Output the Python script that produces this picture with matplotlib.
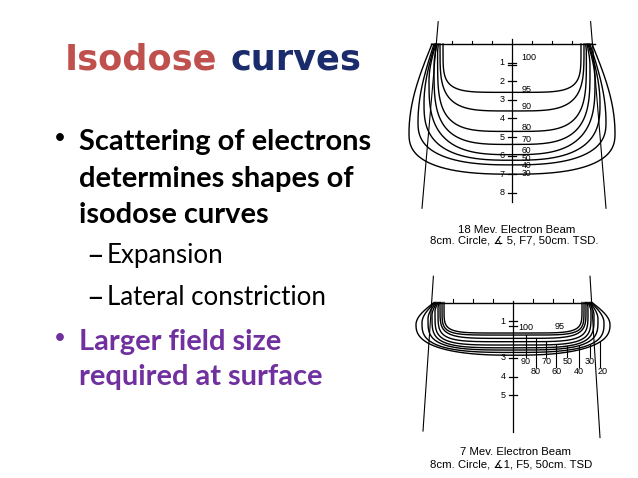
import matplotlib.pyplot as plt
import numpy as np

# 18 MeV beam (upper diagram): isodose level, central-axis depth (cm),
# half-width at surface, max half-width, depth of max half-width, corner shape
top_levels = [95, 90, 80, 70, 60, 50, 40, 30]
top_depth = [2.6, 3.6, 4.7, 5.4, 5.95, 6.25, 6.5, 7.0]
top_surf_half = [3.45, 3.6, 3.68, 3.75, 3.8, 3.85, 3.9, 4.0]
top_max_half = [3.45, 3.6, 3.72, 3.9, 4.15, 4.4, 4.7, 5.15]
top_max_depth = [0.0, 0.0, 0.5, 1.2, 2.0, 3.2, 4.2, 4.8]
top_corner = [5, 4, 4, 3.5, 3, 2.8, 2.6, 2.6]
top_label_depth = [2.42, 3.37, 4.48, 5.16]   # labels 95, 90, 80, 70
top_stack_depth = 6.34                       # stacked labels 60/50/40/30
top_depth_ticks = [1, 2, 3, 4, 5, 6, 7, 8]

# 7 MeV beam (lower diagram)
bot_levels = [95, 90, 80, 70, 60, 50, 40, 30, 20]
bot_depth = [1.65, 1.76, 1.94, 2.12, 2.3, 2.45, 2.57, 2.7, 2.85]
bot_surf_half = [3.45, 3.55, 3.62, 3.68, 3.74, 3.8, 3.85, 3.9, 3.95]
bot_max_half = [3.45, 3.55, 3.65, 3.75, 3.9, 4.05, 4.25, 4.55, 4.85]
bot_max_depth = [0.0, 0.0, 0.1, 0.3, 0.5, 0.7, 0.9, 1.1, 1.2]
bot_corner = [6, 6, 5, 5, 4.5, 4, 3.5, 3, 2.5]
bot_label_x = [0.63, 1.13, 1.67, 2.17, 2.72, 3.28, 3.83, 4.47]
bot_depth_ticks = [1, 3, 4, 5]

surface_ticks = [-3, -2, -1, 1, 2, 3]

fig = plt.figure(figsize=(6.38, 4.78), dpi=100)
W, H = 638, 478


def ftext(x, y, s, **kw):
    # place text using pixel coords measured from top-left
    fig.text(x / W, 1 - y / H, s, **kw)


def add_panel(left, top, right, bottom, x0, y0, sx, sy):
    ax = fig.add_axes([left / W, 1 - bottom / H, (right - left) / W, (bottom - top) / H])
    ax.set_xlim((left - x0) / sx, (right - x0) / sx)
    ax.set_ylim((bottom - y0) / sy, (top - y0) / sy)
    ax.axis('off')
    return ax


def isodose(ax, a, w, m, d, p):
    t = np.linspace(0, 1, 60)
    yu = m * t
    hu = a + (w - a) * np.sin(np.pi / 2 * t)
    th = np.linspace(0, np.pi / 2, 120)
    hl = w * np.cos(th) ** (2 / p)
    yl = m + (d - m) * np.sin(th) ** (2 / p)
    h = np.concatenate([hu, hl])
    y = np.concatenate([yu, yl])
    xs = np.concatenate([-h, h[::-1]])
    ys = np.concatenate([y, y[::-1]])
    ax.plot(xs, ys, color='black', lw=1.0)


def lower_depth(x, w, m, d, p):
    return m + (d - m) * (1 - (abs(x) / w) ** p) ** (1 / p)


lab = dict(family=['Liberation Sans', 'DejaVu Sans'], color='black')
cap = dict(family=['Liberation Sans', 'DejaVu Sans'], color='black', fontsize=8.2)

# ---------- upper diagram ----------
ax1 = add_panel(400, 15, 625, 215, 512, 44, 20, 18.6)
ax1.plot([-4.05, 4.15], [0, 0], color='black', lw=1.0)
ax1.plot([-3.69, -4.5], [-1.2, 8.83], color='black', lw=0.8)
ax1.plot([3.93, 4.7], [-1.2, 8.83], color='black', lw=0.8)
ax1.plot([0, 0], [-0.25, 8.5], color='black', lw=0.9)
for t in surface_ticks:
    ax1.plot([t, t], [0, -0.17], color='black', lw=0.8)
for dtk in top_depth_ticks:
    ax1.plot([-0.22, 0.22], [dtk, dtk], color='black', lw=0.9)
    ax1.text(-0.38, dtk, str(dtk), ha='right', va='center', fontsize=6.5, **lab)
ax1.plot([-0.22, 0.22], [1.12, 1.12], color='black', lw=0.9)
ax1.text(0.45, 0.72, '100', ha='left', va='center', fontsize=6.5, **lab)
for i in range(len(top_levels)):
    isodose(ax1, top_surf_half[i], top_max_half[i], top_max_depth[i], top_depth[i], top_corner[i])
for i, dl in enumerate(top_label_depth):
    ax1.text(0.5, dl, str(top_levels[i]), ha='left', va='center', fontsize=6.5, **lab)
stack = '\n'.join(str(v) for v in top_levels[len(top_label_depth):])
ax1.text(0.5, top_stack_depth, stack, ha='left', va='center', fontsize=6.2,
         linespacing=0.8, **lab)

ftext(517, 230, '18 Mev. Electron Beam', ha='center', va='center', **cap)
ftext(514, 241, '8cm. Circle, \u2221 5, F7, 50cm. TSD.', ha='center', va='center', **cap)

# ---------- lower diagram ----------
ax2 = add_panel(400, 265, 625, 440, 513, 302.5, 20, 18.5)
ax2.plot([-4.0, 3.92], [0, 0], color='black', lw=1.0)
ax2.plot([-3.98, -4.5], [-1.42, 6.95], color='black', lw=0.8)
ax2.plot([3.85, 4.35], [-1.42, 7.3], color='black', lw=0.8)
ax2.plot([0, 0], [-0.1, 7.0], color='black', lw=0.9)
for t in surface_ticks:
    ax2.plot([t, t], [0, -0.17], color='black', lw=0.8)
for dtk in bot_depth_ticks:
    ax2.plot([-0.22, 0.22], [dtk, dtk], color='black', lw=0.9)
    ax2.text(-0.38, dtk, str(dtk), ha='right', va='center', fontsize=6.5, **lab)
ax2.plot([-0.22, 0.22], [1.25, 1.25], color='black', lw=0.9)
ax2.text(0.27, 1.33, '100', ha='left', va='center', fontsize=6.5, **lab)
ax2.text(2.35, 1.28, '95', ha='center', va='center', fontsize=6.5, **lab)
for i in range(len(bot_levels)):
    isodose(ax2, bot_surf_half[i], bot_max_half[i], bot_max_depth[i], bot_depth[i], bot_corner[i])
for j, lv in enumerate(bot_levels[1:]):
    i = j + 1
    lx = bot_label_x[j]
    row = j % 2
    ly = 3.2 if row == 0 else 3.75
    vx = lx if lv != 20 else 4.35
    top_y = lower_depth(vx, bot_max_half[i], bot_max_depth[i], bot_depth[i], bot_corner[i])
    ax2.plot([vx, vx], [top_y, ly - 0.28], color='black', lw=0.8)
    ax2.text(lx, ly, str(lv), ha='center', va='center', fontsize=6.5, **lab)

ftext(515, 451.7, '7 Mev. Electron Beam', ha='center', va='center', **cap)
ftext(511, 464.3, '8cm. Circle, \u22211, F5, 50cm. TSD', ha='center', va='center', **cap)

# ---------- slide text ----------
body = ['Lato', 'DejaVu Sans']
ftext(65, 69.5, 'Isodose', fontsize=25.3, fontweight='bold', family='DejaVu Sans',
      color='#C0504D', va='baseline')
ftext(230, 69.5, 'curves', fontsize=25.3, fontweight='bold', family='DejaVu Sans',
      color='#1A2C6B', va='baseline')

bold = dict(fontsize=20.9, fontweight='bold', family=body, va='baseline')
reg = dict(fontsize=18.6, family=body, color='black', va='baseline')

ftext(59.7, 144, '\u2022', fontsize=15, family=body, color='black', va='baseline', ha='center')
ftext(79, 150, 'Scattering of electrons', color='black', **bold)
ftext(79, 186.7, 'determines shapes of', color='black', **bold)
ftext(79, 222.7, 'isodose curves', color='black', **bold)
ftext(86, 265, '\u2013', fontsize=22, family=body, color='black', va='baseline')
ftext(106.7, 263.3, 'Expansion', **reg)
ftext(86, 306.7, '\u2013', fontsize=22, family=body, color='black', va='baseline')
ftext(106.7, 305, 'Lateral constriction', **reg)
ftext(59.7, 344, '\u2022', fontsize=15, family=body, color='#7030A0', va='baseline', ha='center')
ftext(79, 350, 'Larger field size', color='#7030A0', **bold)
ftext(79, 385, 'required at surface', color='#7030A0', **bold)

fig.savefig('out.png', dpi=100)
